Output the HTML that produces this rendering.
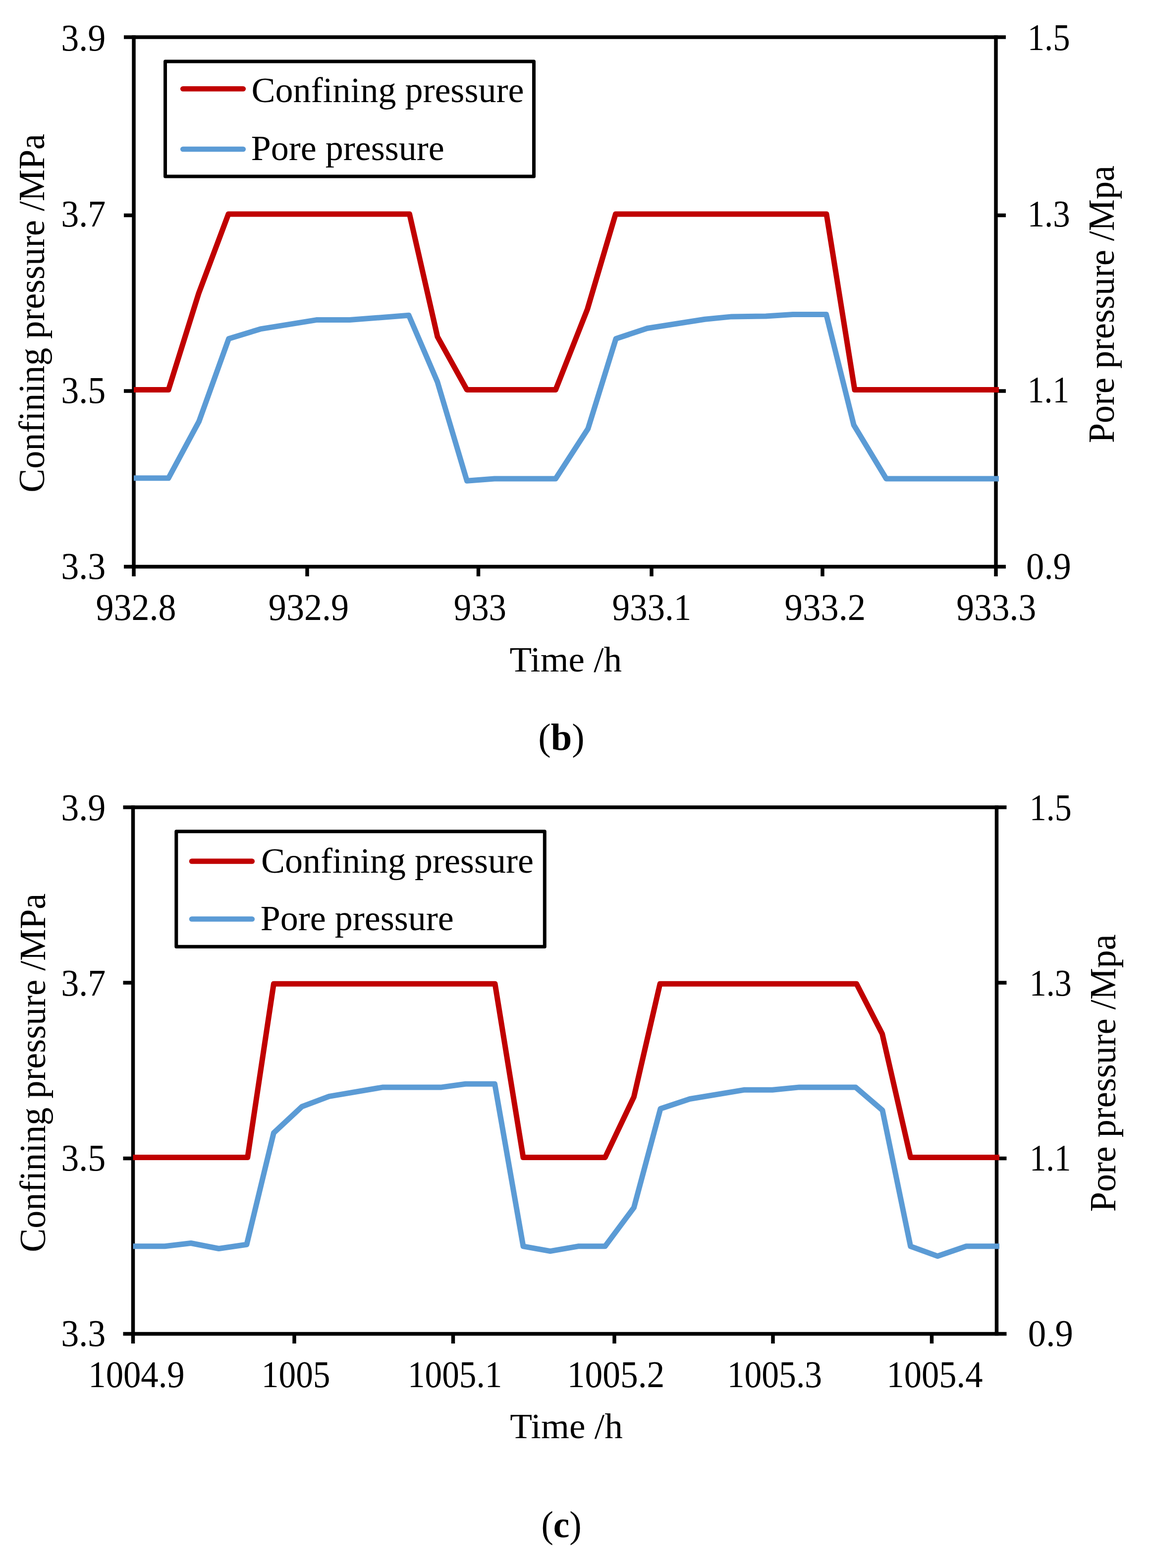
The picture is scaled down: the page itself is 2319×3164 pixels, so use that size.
<!DOCTYPE html>
<html><head><meta charset="utf-8"><title>Confining and pore pressure</title>
<style>html,body{margin:0;padding:0;background:#fff;}svg{display:block;}</style></head>
<body>
<svg width="2319" height="3164" viewBox="0 0 2319 3164" font-family="'Liberation Serif', 'Times New Roman', serif" fill="#000">
<rect width="2319" height="3164" fill="#fff"/>
<line x1="250" y1="75" x2="2030" y2="75" stroke="#000" stroke-width="7.5" stroke-linecap="butt"/>
<line x1="250" y1="1143.5" x2="2030" y2="1143.5" stroke="#000" stroke-width="7.5" stroke-linecap="butt"/>
<line x1="270" y1="71.25" x2="270" y2="1147.25" stroke="#000" stroke-width="7.5" stroke-linecap="butt"/>
<line x1="2010" y1="71.25" x2="2010" y2="1147.25" stroke="#000" stroke-width="7.5" stroke-linecap="butt"/>
<line x1="250" y1="434.5" x2="270" y2="434.5" stroke="#000" stroke-width="7.5" stroke-linecap="butt"/>
<line x1="2010" y1="434.5" x2="2030" y2="434.5" stroke="#000" stroke-width="7.5" stroke-linecap="butt"/>
<line x1="250" y1="789" x2="270" y2="789" stroke="#000" stroke-width="7.5" stroke-linecap="butt"/>
<line x1="2010" y1="789" x2="2030" y2="789" stroke="#000" stroke-width="7.5" stroke-linecap="butt"/>
<line x1="270" y1="1143.5" x2="270" y2="1163.0" stroke="#000" stroke-width="7.5" stroke-linecap="butt"/>
<line x1="620" y1="1143.5" x2="620" y2="1163.0" stroke="#000" stroke-width="7.5" stroke-linecap="butt"/>
<line x1="965.5" y1="1143.5" x2="965.5" y2="1163.0" stroke="#000" stroke-width="7.5" stroke-linecap="butt"/>
<line x1="1315" y1="1143.5" x2="1315" y2="1163.0" stroke="#000" stroke-width="7.5" stroke-linecap="butt"/>
<line x1="1660" y1="1143.5" x2="1660" y2="1163.0" stroke="#000" stroke-width="7.5" stroke-linecap="butt"/>
<line x1="2010" y1="1143.5" x2="2010" y2="1163.0" stroke="#000" stroke-width="7.5" stroke-linecap="butt"/>
<rect x="333.5" y="124" width="744" height="232" fill="#fff" stroke="#000" stroke-width="7" stroke-linejoin="round"/>
<line x1="369.2" y1="179.2" x2="490.8" y2="179.2" stroke="#C00000" stroke-width="10.6" stroke-linecap="round"/>
<line x1="369.2" y1="301" x2="490.8" y2="301" stroke="#5B9BD5" stroke-width="10.6" stroke-linecap="round"/>
<polyline points="270.0,964.8 340.0,964.8 401.6,850.4 461.6,683.6 525.5,663.9 638.5,645.6 705.5,645.6 825.0,636.2 882.8,770.5 942.4,970.2 998.0,965.9 1121.4,965.9 1186.8,864.9 1243.1,683.5 1306.2,662.5 1422.4,644.3 1476.9,638.9 1545.9,638.1 1600.4,634.5 1667.6,634.5 1723.2,857.6 1788.6,965.9 2016.0,965.9" fill="none" stroke="#5B9BD5" stroke-width="11" stroke-linejoin="round" stroke-linecap="butt"/>
<polyline points="270.0,786.6 340.0,786.6 401.0,592.0 461.0,432.0 826.5,432.0 883.0,679.7 942.4,786.6 1121.4,786.6 1185.7,623.4 1242.4,432.0 1668.0,432.0 1725.0,786.6 2016.0,786.6" fill="none" stroke="#C00000" stroke-width="11" stroke-linejoin="round" stroke-linecap="butt"/>
<line x1="248.5" y1="1629" x2="2031.5" y2="1629" stroke="#000" stroke-width="7.5" stroke-linecap="butt"/>
<line x1="248.5" y1="2691.5" x2="2031.5" y2="2691.5" stroke="#000" stroke-width="7.5" stroke-linecap="butt"/>
<line x1="268.5" y1="1625.25" x2="268.5" y2="2695.25" stroke="#000" stroke-width="7.5" stroke-linecap="butt"/>
<line x1="2011.5" y1="1625.25" x2="2011.5" y2="2695.25" stroke="#000" stroke-width="7.5" stroke-linecap="butt"/>
<line x1="248.5" y1="1983" x2="268.5" y2="1983" stroke="#000" stroke-width="7.5" stroke-linecap="butt"/>
<line x1="2011.5" y1="1983" x2="2031.5" y2="1983" stroke="#000" stroke-width="7.5" stroke-linecap="butt"/>
<line x1="248.5" y1="2337.5" x2="268.5" y2="2337.5" stroke="#000" stroke-width="7.5" stroke-linecap="butt"/>
<line x1="2011.5" y1="2337.5" x2="2031.5" y2="2337.5" stroke="#000" stroke-width="7.5" stroke-linecap="butt"/>
<line x1="268.5" y1="2691.5" x2="268.5" y2="2711.0" stroke="#000" stroke-width="7.5" stroke-linecap="butt"/>
<line x1="594" y1="2691.5" x2="594" y2="2711.0" stroke="#000" stroke-width="7.5" stroke-linecap="butt"/>
<line x1="914.5" y1="2691.5" x2="914.5" y2="2711.0" stroke="#000" stroke-width="7.5" stroke-linecap="butt"/>
<line x1="1240" y1="2691.5" x2="1240" y2="2711.0" stroke="#000" stroke-width="7.5" stroke-linecap="butt"/>
<line x1="1560" y1="2691.5" x2="1560" y2="2711.0" stroke="#000" stroke-width="7.5" stroke-linecap="butt"/>
<line x1="1880.5" y1="2691.5" x2="1880.5" y2="2711.0" stroke="#000" stroke-width="7.5" stroke-linecap="butt"/>
<rect x="355.8" y="1677.7" width="743.5" height="232.6" fill="#fff" stroke="#000" stroke-width="7" stroke-linejoin="round"/>
<line x1="387" y1="1737.9" x2="508.8" y2="1737.9" stroke="#C00000" stroke-width="10.6" stroke-linecap="round"/>
<line x1="387" y1="1854.5" x2="508.8" y2="1854.5" stroke="#5B9BD5" stroke-width="10.6" stroke-linecap="round"/>
<polyline points="268.5,2514.8 332.6,2514.8 385.3,2508.5 441.6,2519.5 497.9,2511.2 552.4,2286.0 609.6,2232.8 664.1,2212.4 773.0,2193.9 891.0,2193.9 939.5,2187.2 998.5,2187.2 1056.0,2514.8 1110.5,2524.6 1166.8,2514.8 1221.3,2514.8 1279.4,2436.7 1333.0,2237.2 1392.3,2217.5 1501.3,2199.3 1558.8,2199.3 1613.3,2193.9 1726.8,2193.9 1781.0,2240.4 1837.7,2514.8 1892.1,2534.7 1950.2,2514.8 2017.0,2514.8" fill="none" stroke="#5B9BD5" stroke-width="11" stroke-linejoin="round" stroke-linecap="butt"/>
<polyline points="268.5,2335.5 499.7,2335.5 552.4,1985.2 999.0,1985.2 1056.0,2335.5 1221.3,2335.5 1279.4,2213.3 1332.1,1985.2 1728.7,1985.2 1780.6,2086.2 1837.7,2335.5 2017.0,2335.5" fill="none" stroke="#C00000" stroke-width="11" stroke-linejoin="round" stroke-linecap="butt"/>
<text transform="translate(126.90,101.50) scale(1.0000,1.0600)" x="-3.60" y="0" font-size="72" font-weight="normal">3.9</text>
<text transform="translate(126.90,457.10) scale(1.0000,1.0600)" x="-3.60" y="0" font-size="72" font-weight="normal">3.7</text>
<text transform="translate(126.90,812.70) scale(1.0000,1.0600)" x="-3.60" y="0" font-size="72" font-weight="normal">3.5</text>
<text transform="translate(126.90,1168.30) scale(1.0000,1.0600)" x="-3.60" y="0" font-size="72" font-weight="normal">3.3</text>
<text transform="translate(2079.90,101.20) scale(0.9561,1.0600)" x="-6.48" y="0" font-size="72" font-weight="normal">1.5</text>
<text transform="translate(2079.90,456.80) scale(0.9561,1.0600)" x="-6.48" y="0" font-size="72" font-weight="normal">1.3</text>
<text transform="translate(2079.90,812.40) scale(0.9369,1.0600)" x="-6.48" y="0" font-size="72" font-weight="normal">1.1</text>
<text transform="translate(2074.00,1168.00) scale(1.0090,1.0600)" x="-2.88" y="0" font-size="72" font-weight="normal">0.9</text>
<text transform="translate(195.70,1251.00) scale(0.9996,1.0600)" x="-2.16" y="0" font-size="72" font-weight="normal">932.8</text>
<text transform="translate(544.00,1251.00) scale(1.0022,1.0600)" x="-2.16" y="0" font-size="72" font-weight="normal">932.9</text>
<text transform="translate(917.80,1251.00) scale(0.9848,1.0600)" x="-2.16" y="0" font-size="72" font-weight="normal">933</text>
<text transform="translate(1237.70,1251.00) scale(0.9864,1.0600)" x="-2.16" y="0" font-size="72" font-weight="normal">933.1</text>
<text transform="translate(1585.70,1251.00) scale(1.0108,1.0600)" x="-2.16" y="0" font-size="72" font-weight="normal">933.2</text>
<text transform="translate(1932.50,1251.00) scale(0.9932,1.0600)" x="-2.16" y="0" font-size="72" font-weight="normal">933.3</text>
<text transform="translate(1030.00,1354.80) scale(1.0138,1.0000)" x="-1.44" y="0" font-size="72" font-weight="normal">Time /h</text>
<text transform="translate(510.30,206.00) scale(1.0000,1.0000)" x="-2.88" y="0" font-size="72" font-weight="normal">Confining pressure</text>
<text transform="translate(508.90,322.80) scale(1.0000,1.0000)" x="-2.16" y="0" font-size="72" font-weight="normal">Pore pressure</text>
<text transform="translate(88.90,990.90) rotate(-90) scale(1.0000,1.0300)" x="-2.88" y="0" font-size="72" font-weight="normal">Confining pressure /MPa</text>
<text transform="translate(2247.90,891.80) rotate(-90) scale(1.0000,1.0300)" x="-2.16" y="0" font-size="72" font-weight="normal">Pore pressure /Mpa</text>
<text transform="translate(1089.40,1513.30) scale(0.9986,1.0000)" x="-3.06" y="0" font-size="76.6" font-weight="normal">(<tspan font-weight="bold">b</tspan>)</text>
<text transform="translate(126.90,1655.00) scale(1.0000,1.0600)" x="-3.60" y="0" font-size="72" font-weight="normal">3.9</text>
<text transform="translate(126.90,2008.60) scale(1.0000,1.0600)" x="-3.60" y="0" font-size="72" font-weight="normal">3.7</text>
<text transform="translate(126.90,2362.20) scale(1.0000,1.0600)" x="-3.60" y="0" font-size="72" font-weight="normal">3.5</text>
<text transform="translate(126.90,2715.80) scale(1.0000,1.0600)" x="-3.60" y="0" font-size="72" font-weight="normal">3.3</text>
<text transform="translate(2083.90,1655.20) scale(0.9462,1.0600)" x="-6.48" y="0" font-size="72" font-weight="normal">1.5</text>
<text transform="translate(2083.90,2008.80) scale(0.9462,1.0600)" x="-6.48" y="0" font-size="72" font-weight="normal">1.3</text>
<text transform="translate(2083.90,2362.40) scale(0.9293,1.0600)" x="-6.48" y="0" font-size="72" font-weight="normal">1.1</text>
<text transform="translate(2077.70,2716.00) scale(1.0126,1.0600)" x="-2.88" y="0" font-size="72" font-weight="normal">0.9</text>
<text transform="translate(184.70,2799.20) scale(0.9818,1.0600)" x="-6.48" y="0" font-size="72" font-weight="normal">1004.9</text>
<text transform="translate(534.00,2799.20) scale(0.9641,1.0600)" x="-6.48" y="0" font-size="72" font-weight="normal">1005</text>
<text transform="translate(829.10,2799.20) scale(0.9621,1.0600)" x="-6.48" y="0" font-size="72" font-weight="normal">1005.1</text>
<text transform="translate(1151.10,2799.20) scale(0.9931,1.0600)" x="-6.48" y="0" font-size="72" font-weight="normal">1005.2</text>
<text transform="translate(1474.00,2799.20) scale(0.9664,1.0600)" x="-6.48" y="0" font-size="72" font-weight="normal">1005.3</text>
<text transform="translate(1795.90,2799.20) scale(0.9796,1.0600)" x="-6.48" y="0" font-size="72" font-weight="normal">1005.4</text>
<text transform="translate(1030.80,2902.10) scale(1.0188,1.0000)" x="-1.44" y="0" font-size="72" font-weight="normal">Time /h</text>
<text transform="translate(529.80,1760.50) scale(1.0000,1.0000)" x="-2.88" y="0" font-size="72" font-weight="normal">Confining pressure</text>
<text transform="translate(527.90,1876.50) scale(1.0000,1.0000)" x="-2.16" y="0" font-size="72" font-weight="normal">Pore pressure</text>
<text transform="translate(90.70,2523.80) rotate(-90) scale(1.0000,1.0300)" x="-2.88" y="0" font-size="72" font-weight="normal">Confining pressure /MPa</text>
<text transform="translate(2250.70,2443.00) rotate(-90) scale(1.0000,1.0300)" x="-2.16" y="0" font-size="72" font-weight="normal">Pore pressure /Mpa</text>
<text transform="translate(1095.30,3102.30) scale(0.9569,1.0000)" x="-3.06" y="0" font-size="76.6" font-weight="normal">(<tspan font-weight="bold">c</tspan>)</text>
</svg>
</body></html>
